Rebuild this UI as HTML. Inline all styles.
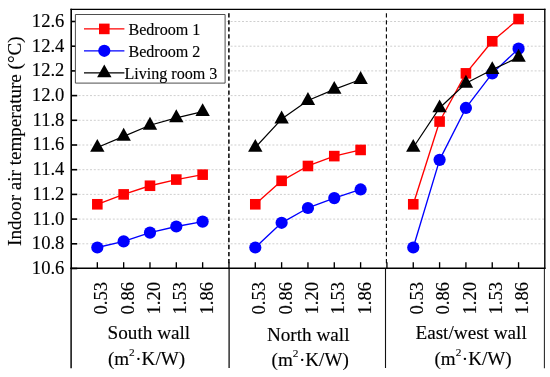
<!DOCTYPE html>
<html><head><meta charset="utf-8"><title>Indoor air temperature chart</title>
<style>html,body{margin:0;padding:0;background:#fff}svg{display:block}</style></head>
<body>
<svg width="550" height="377" viewBox="0 0 550 377" font-family="'Liberation Serif', 'Times New Roman', serif" fill="#000" stroke="#000" stroke-width="0.13" stroke-linejoin="round">
<rect width="550" height="377" fill="#fff" stroke="none"/>
<line x1="71.0" x2="544.90" y1="243.80" y2="243.80" stroke="#cfcfcf" stroke-width="1" stroke-dasharray="2 1.8"/>
<line x1="71.0" x2="544.90" y1="219.10" y2="219.10" stroke="#cfcfcf" stroke-width="1" stroke-dasharray="2 1.8"/>
<line x1="71.0" x2="544.90" y1="194.40" y2="194.40" stroke="#cfcfcf" stroke-width="1" stroke-dasharray="2 1.8"/>
<line x1="71.0" x2="544.90" y1="169.70" y2="169.70" stroke="#cfcfcf" stroke-width="1" stroke-dasharray="2 1.8"/>
<line x1="71.0" x2="544.90" y1="145.00" y2="145.00" stroke="#cfcfcf" stroke-width="1" stroke-dasharray="2 1.8"/>
<line x1="71.0" x2="544.90" y1="120.30" y2="120.30" stroke="#cfcfcf" stroke-width="1" stroke-dasharray="2 1.8"/>
<line x1="71.0" x2="544.90" y1="95.60" y2="95.60" stroke="#cfcfcf" stroke-width="1" stroke-dasharray="2 1.8"/>
<line x1="71.0" x2="544.90" y1="70.90" y2="70.90" stroke="#cfcfcf" stroke-width="1" stroke-dasharray="2 1.8"/>
<line x1="71.0" x2="544.90" y1="46.20" y2="46.20" stroke="#cfcfcf" stroke-width="1" stroke-dasharray="2 1.8"/>
<line x1="71.0" x2="544.90" y1="21.50" y2="21.50" stroke="#cfcfcf" stroke-width="1" stroke-dasharray="2 1.8"/>
<line x1="228.9" x2="228.9" y1="13.2" y2="263.50" stroke="#000" stroke-width="1.5" stroke-dasharray="4.3 2.72"/>
<line x1="229.1" x2="229.1" y1="268.50" y2="368" stroke="#111" stroke-width="1.3"/>
<line x1="228.97" x2="228.97" y1="262.20" y2="268.50" stroke="#000" stroke-width="1.35"/>
<line x1="386.4" x2="386.4" y1="13.2" y2="263.50" stroke="#000" stroke-width="1.1" stroke-dasharray="4.3 2.72"/>
<line x1="385.5" x2="385.5" y1="268.50" y2="368" stroke="#111" stroke-width="1.1"/>
<line x1="386.93" x2="386.93" y1="262.20" y2="268.50" stroke="#000" stroke-width="1.35"/>
<line x1="71.1" x2="71.1" y1="268.50" y2="368.2" stroke="#000" stroke-width="1.45"/>
<line x1="544.4" x2="544.4" y1="268.50" y2="368.3" stroke="#222" stroke-width="1.05"/>
<line x1="70.4" x2="545.5" y1="9.4" y2="9.4" stroke="#000" stroke-width="1.4"/>
<line x1="70.3" x2="545.5" y1="268.20" y2="268.20" stroke="#000" stroke-width="1.5"/>
<line x1="71.2" x2="71.2" y1="8.7" y2="268.90" stroke="#000" stroke-width="1.6"/>
<line x1="544.8" x2="544.8" y1="8.7" y2="268.90" stroke="#000" stroke-width="1.4"/>
<line x1="71.0" x2="77.2" y1="268.50" y2="268.50" stroke="#000" stroke-width="1.6"/>
<text x="64.4" y="273.90" font-size="18.6" text-anchor="end">10.6</text>
<line x1="71.0" x2="77.2" y1="243.80" y2="243.80" stroke="#000" stroke-width="1.6"/>
<text x="64.4" y="249.20" font-size="18.6" text-anchor="end">10.8</text>
<line x1="71.0" x2="77.2" y1="219.10" y2="219.10" stroke="#000" stroke-width="1.6"/>
<text x="64.4" y="224.50" font-size="18.6" text-anchor="end">11.0</text>
<line x1="71.0" x2="77.2" y1="194.40" y2="194.40" stroke="#000" stroke-width="1.6"/>
<text x="64.4" y="199.80" font-size="18.6" text-anchor="end">11.2</text>
<line x1="71.0" x2="77.2" y1="169.70" y2="169.70" stroke="#000" stroke-width="1.6"/>
<text x="64.4" y="175.10" font-size="18.6" text-anchor="end">11.4</text>
<line x1="71.0" x2="77.2" y1="145.00" y2="145.00" stroke="#000" stroke-width="1.6"/>
<text x="64.4" y="150.40" font-size="18.6" text-anchor="end">11.6</text>
<line x1="71.0" x2="77.2" y1="120.30" y2="120.30" stroke="#000" stroke-width="1.6"/>
<text x="64.4" y="125.70" font-size="18.6" text-anchor="end">11.8</text>
<line x1="71.0" x2="77.2" y1="95.60" y2="95.60" stroke="#000" stroke-width="1.6"/>
<text x="64.4" y="101.00" font-size="18.6" text-anchor="end">12.0</text>
<line x1="71.0" x2="77.2" y1="70.90" y2="70.90" stroke="#000" stroke-width="1.6"/>
<text x="64.4" y="76.30" font-size="18.6" text-anchor="end">12.2</text>
<line x1="71.0" x2="77.2" y1="46.20" y2="46.20" stroke="#000" stroke-width="1.6"/>
<text x="64.4" y="51.60" font-size="18.6" text-anchor="end">12.4</text>
<line x1="71.0" x2="77.2" y1="21.50" y2="21.50" stroke="#000" stroke-width="1.6"/>
<text x="64.4" y="26.90" font-size="18.6" text-anchor="end">12.6</text>
<line x1="97.33" x2="97.33" y1="262.20" y2="268.50" stroke="#000" stroke-width="1.35"/>
<text transform="translate(107.23,298.3) rotate(-90)" font-size="18.6" text-anchor="middle">0.53</text>
<line x1="123.66" x2="123.66" y1="262.20" y2="268.50" stroke="#000" stroke-width="1.35"/>
<text transform="translate(133.56,298.3) rotate(-90)" font-size="18.6" text-anchor="middle">0.86</text>
<line x1="149.98" x2="149.98" y1="262.20" y2="268.50" stroke="#000" stroke-width="1.35"/>
<text transform="translate(159.88,298.3) rotate(-90)" font-size="18.6" text-anchor="middle">1.20</text>
<line x1="176.31" x2="176.31" y1="262.20" y2="268.50" stroke="#000" stroke-width="1.35"/>
<text transform="translate(186.21,298.3) rotate(-90)" font-size="18.6" text-anchor="middle">1.53</text>
<line x1="202.64" x2="202.64" y1="262.20" y2="268.50" stroke="#000" stroke-width="1.35"/>
<text transform="translate(212.54,298.3) rotate(-90)" font-size="18.6" text-anchor="middle">1.86</text>
<line x1="255.29" x2="255.29" y1="262.20" y2="268.50" stroke="#000" stroke-width="1.35"/>
<text transform="translate(265.19,298.3) rotate(-90)" font-size="18.6" text-anchor="middle">0.53</text>
<line x1="281.62" x2="281.62" y1="262.20" y2="268.50" stroke="#000" stroke-width="1.35"/>
<text transform="translate(291.52,298.3) rotate(-90)" font-size="18.6" text-anchor="middle">0.86</text>
<line x1="307.95" x2="307.95" y1="262.20" y2="268.50" stroke="#000" stroke-width="1.35"/>
<text transform="translate(317.85,298.3) rotate(-90)" font-size="18.6" text-anchor="middle">1.20</text>
<line x1="334.28" x2="334.28" y1="262.20" y2="268.50" stroke="#000" stroke-width="1.35"/>
<text transform="translate(344.18,298.3) rotate(-90)" font-size="18.6" text-anchor="middle">1.53</text>
<line x1="360.61" x2="360.61" y1="262.20" y2="268.50" stroke="#000" stroke-width="1.35"/>
<text transform="translate(370.51,298.3) rotate(-90)" font-size="18.6" text-anchor="middle">1.86</text>
<line x1="413.26" x2="413.26" y1="262.20" y2="268.50" stroke="#000" stroke-width="1.35"/>
<text transform="translate(423.16,298.3) rotate(-90)" font-size="18.6" text-anchor="middle">0.53</text>
<line x1="439.59" x2="439.59" y1="262.20" y2="268.50" stroke="#000" stroke-width="1.35"/>
<text transform="translate(449.49,298.3) rotate(-90)" font-size="18.6" text-anchor="middle">0.86</text>
<line x1="465.92" x2="465.92" y1="262.20" y2="268.50" stroke="#000" stroke-width="1.35"/>
<text transform="translate(475.82,298.3) rotate(-90)" font-size="18.6" text-anchor="middle">1.20</text>
<line x1="492.24" x2="492.24" y1="262.20" y2="268.50" stroke="#000" stroke-width="1.35"/>
<text transform="translate(502.14,298.3) rotate(-90)" font-size="18.6" text-anchor="middle">1.53</text>
<line x1="518.57" x2="518.57" y1="262.20" y2="268.50" stroke="#000" stroke-width="1.35"/>
<text transform="translate(528.47,298.3) rotate(-90)" font-size="18.6" text-anchor="middle">1.86</text>
<polyline fill="none" stroke="#ff0000" stroke-width="1.35" points="97.33,204.28 123.66,194.40 149.98,185.75 176.31,179.58 202.64,174.64"/>
<polyline fill="none" stroke="#ff0000" stroke-width="1.35" points="255.29,204.28 281.62,180.81 307.95,165.99 334.28,156.11 360.61,149.94"/>
<polyline fill="none" stroke="#ff0000" stroke-width="1.35" points="413.26,204.28 439.59,121.54 465.92,73.37 492.24,41.26 518.57,19.03"/>
<polyline fill="none" stroke="#0000ff" stroke-width="1.35" points="97.33,247.50 123.66,241.33 149.98,232.68 176.31,226.51 202.64,221.57"/>
<polyline fill="none" stroke="#0000ff" stroke-width="1.35" points="255.29,247.50 281.62,222.80 307.95,207.98 334.28,198.10 360.61,189.46"/>
<polyline fill="none" stroke="#0000ff" stroke-width="1.35" points="413.26,247.50 439.59,159.82 465.92,107.95 492.24,73.37 518.57,48.67"/>
<polyline fill="none" stroke="#000000" stroke-width="1.2" points="97.33,147.47 123.66,136.35 149.98,125.24 176.31,117.83 202.64,111.66"/>
<polyline fill="none" stroke="#000000" stroke-width="1.2" points="255.29,147.47 281.62,119.06 307.95,100.54 334.28,89.42 360.61,79.54"/>
<polyline fill="none" stroke="#000000" stroke-width="1.2" points="413.26,147.47 439.59,107.95 465.92,83.25 492.24,69.66 518.57,57.31"/>
<rect x="92.03" y="198.98" width="10.6" height="10.6" fill="#ff0000" stroke="none"/>
<rect x="118.36" y="189.10" width="10.6" height="10.6" fill="#ff0000" stroke="none"/>
<rect x="144.68" y="180.45" width="10.6" height="10.6" fill="#ff0000" stroke="none"/>
<rect x="171.01" y="174.28" width="10.6" height="10.6" fill="#ff0000" stroke="none"/>
<rect x="197.34" y="169.34" width="10.6" height="10.6" fill="#ff0000" stroke="none"/>
<rect x="249.99" y="198.98" width="10.6" height="10.6" fill="#ff0000" stroke="none"/>
<rect x="276.32" y="175.51" width="10.6" height="10.6" fill="#ff0000" stroke="none"/>
<rect x="302.65" y="160.69" width="10.6" height="10.6" fill="#ff0000" stroke="none"/>
<rect x="328.98" y="150.81" width="10.6" height="10.6" fill="#ff0000" stroke="none"/>
<rect x="355.31" y="144.64" width="10.6" height="10.6" fill="#ff0000" stroke="none"/>
<rect x="407.96" y="198.98" width="10.6" height="10.6" fill="#ff0000" stroke="none"/>
<rect x="434.29" y="116.24" width="10.6" height="10.6" fill="#ff0000" stroke="none"/>
<rect x="460.62" y="68.07" width="10.6" height="10.6" fill="#ff0000" stroke="none"/>
<rect x="486.94" y="35.96" width="10.6" height="10.6" fill="#ff0000" stroke="none"/>
<rect x="513.27" y="13.73" width="10.6" height="10.6" fill="#ff0000" stroke="none"/>
<circle cx="97.33" cy="247.50" r="6.1" fill="#0000ff" stroke="none"/>
<circle cx="123.66" cy="241.33" r="6.1" fill="#0000ff" stroke="none"/>
<circle cx="149.98" cy="232.68" r="6.1" fill="#0000ff" stroke="none"/>
<circle cx="176.31" cy="226.51" r="6.1" fill="#0000ff" stroke="none"/>
<circle cx="202.64" cy="221.57" r="6.1" fill="#0000ff" stroke="none"/>
<circle cx="255.29" cy="247.50" r="6.1" fill="#0000ff" stroke="none"/>
<circle cx="281.62" cy="222.80" r="6.1" fill="#0000ff" stroke="none"/>
<circle cx="307.95" cy="207.98" r="6.1" fill="#0000ff" stroke="none"/>
<circle cx="334.28" cy="198.10" r="6.1" fill="#0000ff" stroke="none"/>
<circle cx="360.61" cy="189.46" r="6.1" fill="#0000ff" stroke="none"/>
<circle cx="413.26" cy="247.50" r="6.1" fill="#0000ff" stroke="none"/>
<circle cx="439.59" cy="159.82" r="6.1" fill="#0000ff" stroke="none"/>
<circle cx="465.92" cy="107.95" r="6.1" fill="#0000ff" stroke="none"/>
<circle cx="492.24" cy="73.37" r="6.1" fill="#0000ff" stroke="none"/>
<circle cx="518.57" cy="48.67" r="6.1" fill="#0000ff" stroke="none"/>
<polygon points="97.33,138.97 90.13,151.87 104.53,151.87" fill="#000000" stroke="none"/>
<polygon points="123.66,127.85 116.46,140.75 130.86,140.75" fill="#000000" stroke="none"/>
<polygon points="149.98,116.74 142.78,129.64 157.18,129.64" fill="#000000" stroke="none"/>
<polygon points="176.31,109.33 169.11,122.23 183.51,122.23" fill="#000000" stroke="none"/>
<polygon points="202.64,103.16 195.44,116.06 209.84,116.06" fill="#000000" stroke="none"/>
<polygon points="255.29,138.97 248.09,151.87 262.49,151.87" fill="#000000" stroke="none"/>
<polygon points="281.62,110.56 274.42,123.46 288.82,123.46" fill="#000000" stroke="none"/>
<polygon points="307.95,92.04 300.75,104.94 315.15,104.94" fill="#000000" stroke="none"/>
<polygon points="334.28,80.92 327.08,93.82 341.48,93.82" fill="#000000" stroke="none"/>
<polygon points="360.61,71.04 353.41,83.94 367.81,83.94" fill="#000000" stroke="none"/>
<polygon points="413.26,138.97 406.06,151.87 420.46,151.87" fill="#000000" stroke="none"/>
<polygon points="439.59,99.45 432.39,112.35 446.79,112.35" fill="#000000" stroke="none"/>
<polygon points="465.92,74.75 458.72,87.65 473.12,87.65" fill="#000000" stroke="none"/>
<polygon points="492.24,61.16 485.04,74.06 499.44,74.06" fill="#000000" stroke="none"/>
<polygon points="518.57,48.81 511.37,61.71 525.77,61.71" fill="#000000" stroke="none"/>
<rect x="75.4" y="14.5" width="149.7" height="68.6" fill="#fff" stroke="#444" stroke-width="0.95"/>
<line x1="84" x2="124.4" y1="28.9" y2="28.9" stroke="#ff0000" stroke-width="1.3"/>
<rect x="99.00" y="23.60" width="10.6" height="10.6" fill="#ff0000" stroke="none"/>
<text x="128.4" y="35.10" font-size="16.1">Bedroom 1</text>
<line x1="84" x2="124.4" y1="50.8" y2="50.8" stroke="#0000ff" stroke-width="1.3"/>
<circle cx="104.30" cy="50.80" r="6.1" fill="#0000ff" stroke="none"/>
<text x="128.4" y="57.00" font-size="16.1">Bedroom 2</text>
<line x1="84" x2="124.4" y1="72.9" y2="72.9" stroke="#000000" stroke-width="1.3"/>
<polygon points="104.30,64.40 97.10,77.30 111.50,77.30" fill="#000000" stroke="none"/>
<text x="124.4" y="79.10" font-size="16.1">Living room 3</text>
<text transform="translate(21.2,141.1) rotate(-90)" font-size="19.1" text-anchor="middle">Indoor air temperature (°C)</text>
<text x="148.9" y="338.8" font-size="19.2" text-anchor="middle">South wall</text>
<text x="146.5" y="364.7" font-size="19.1" text-anchor="middle">(m<tspan font-size="11.3" dy="-8.8">2</tspan><tspan dy="8.8" dx="0.5">·K/W)</tspan></text>
<text x="308.2" y="340.7" font-size="19.2" text-anchor="middle">North wall</text>
<text x="310.2" y="365.5" font-size="19.1" text-anchor="middle">(m<tspan font-size="11.3" dy="-8.8">2</tspan><tspan dy="8.8" dx="0.5">·K/W)</tspan></text>
<text x="471.1" y="338.8" font-size="19.2" text-anchor="middle">East/west wall</text>
<text x="473.1" y="365.2" font-size="19.1" text-anchor="middle">(m<tspan font-size="11.3" dy="-8.8">2</tspan><tspan dy="8.8" dx="0.5">·K/W)</tspan></text>
</svg>
</body></html>
